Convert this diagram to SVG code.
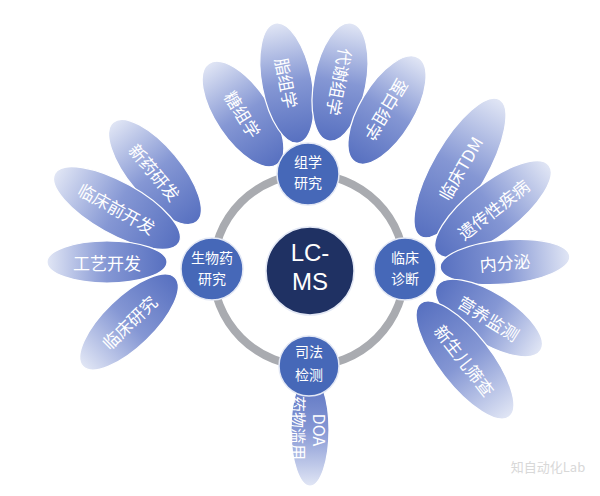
<svg xmlns="http://www.w3.org/2000/svg" width="600" height="496" viewBox="0 0 600 496">
<defs>
<linearGradient id="pg" x1="0" y1="0" x2="1" y2="0">
<stop offset="0" stop-color="#5770c0"/>
<stop offset="0.5" stop-color="#8597d4"/>
<stop offset="1" stop-color="#e1e6f5"/>
</linearGradient>
</defs>
<style>
.petal{fill:url(#pg);stroke:#ffffff;stroke-width:1.2}
.pt{fill:#ffffff;font-family:"Noto Sans CJK SC","Liberation Sans",sans-serif;font-size:17px;text-anchor:middle;dominant-baseline:central}
.hub{fill:#4668b8;stroke:#e3e8f5;stroke-width:1.5}
.ht{fill:#ffffff;font-family:"Noto Sans CJK SC","Liberation Sans",sans-serif;font-size:14px;text-anchor:middle}
.ring{fill:none;stroke:#a9abb0;stroke-width:8}
.ct{fill:#ffffff;font-family:"Liberation Sans",Arial,sans-serif;font-size:24px;text-anchor:middle}
</style>
<rect width="600" height="496" fill="#ffffff"/>
<g id="petals">
<g id="p-tang" transform="translate(243,114)"><ellipse class="petal" rx="61" ry="27" transform="rotate(-124)"/><text class="pt" transform="rotate(58)">糖组学</text></g>
<g id="p-zhi" transform="translate(287,83)"><ellipse class="petal" rx="61" ry="25" transform="rotate(-101)"/><text class="pt" transform="rotate(79)">脂组学</text></g>
<g id="p-daixie" transform="translate(340,82)"><ellipse class="petal" rx="60" ry="26" transform="rotate(-79)"/><text class="pt" transform="rotate(101)">代谢组学</text></g>
<g id="p-danbai" transform="translate(387,110)"><ellipse class="petal" rx="61" ry="27" transform="rotate(-59)"/><text class="pt" transform="rotate(121)">蛋白组学</text></g>
<g id="p-tdm" transform="translate(460,168)"><ellipse class="petal" rx="79" ry="27" transform="rotate(-60)"/><text class="pt" transform="rotate(-60)">临床TDM</text></g>
<g id="p-yichuan" transform="translate(493,209)"><ellipse class="petal" rx="71" ry="26" transform="rotate(-38)"/><text class="pt" transform="rotate(-38)">遗传性疾病</text></g>
<g id="p-neifen" transform="translate(505,262)"><ellipse class="petal" rx="65" ry="22" transform="rotate(-5)"/><text class="pt" transform="rotate(-5)">内分泌</text></g>
<g id="p-yingyang" transform="translate(489,318)"><ellipse class="petal" rx="61" ry="25" transform="rotate(32)"/><text class="pt" transform="rotate(32)">营养监测</text></g>
<g id="p-xinsheng" transform="translate(465,360)"><ellipse class="petal" rx="72" ry="26" transform="rotate(52)"/><text class="pt" transform="rotate(52)">新生儿筛查</text></g>
<g id="p-xinyao" transform="translate(155,172)"><ellipse class="petal" rx="65" ry="26" transform="rotate(-130)"/><text class="pt" transform="rotate(50)">新药研发</text></g>
<g id="p-linchuangqian" transform="translate(117,208)"><ellipse class="petal" rx="71" ry="26" transform="rotate(-151)"/><text class="pt" transform="rotate(29)">临床前开发</text></g>
<g id="p-gongyi" transform="translate(107,262)"><ellipse class="petal" rx="60" ry="21" transform="rotate(180)"/><text class="pt">工艺开发</text></g>
<g id="p-linchuangyj" transform="translate(129,322)"><ellipse class="petal" rx="64" ry="25" transform="rotate(136)"/><text class="pt" transform="rotate(-44)">临床研究</text></g>
<g id="p-doa" transform="translate(310,430)"><ellipse class="petal" rx="56" ry="19" transform="rotate(90)"/><text class="pt" style="font-size:16px" transform="translate(-11,-2) rotate(90)">药物滥用</text><text class="pt" style="font-size:16px" transform="translate(10,0) rotate(90)">DOA</text></g>
</g>
<g id="connectors">
<circle class="ring" cx="309" cy="270" r="96"/>
</g>
<g id="hub-omics"><circle class="hub" cx="308" cy="174" r="31"/><text class="ht" x="308" y="167">组学</text><text class="ht" x="308" y="188">研究</text></g>
<g id="hub-bio"><circle class="hub" cx="212" cy="269" r="31"/><text class="ht" x="212" y="263">生物药</text><text class="ht" x="212" y="284">研究</text></g>
<g id="hub-clinic"><circle class="hub" cx="405" cy="269" r="31"/><text class="ht" x="405" y="263">临床</text><text class="ht" x="405" y="284">诊断</text></g>
<g id="hub-forensic"><circle class="hub" cx="309" cy="366" r="30"/><text class="ht" x="309" y="357">司法</text><text class="ht" x="309" y="380">检测</text></g>
<g id="center"><circle cx="310" cy="271" r="44" fill="#1f3163" stroke="#e3e8f5" stroke-width="1.5"/><text class="ct" x="310" y="261">LC-</text><text class="ct" x="310" y="290">MS</text></g>
<text x="548" y="472" fill="#d8d8d8" font-family="Noto Sans CJK SC, sans-serif" font-size="13" text-anchor="middle">知自动化Lab</text>
</svg>
